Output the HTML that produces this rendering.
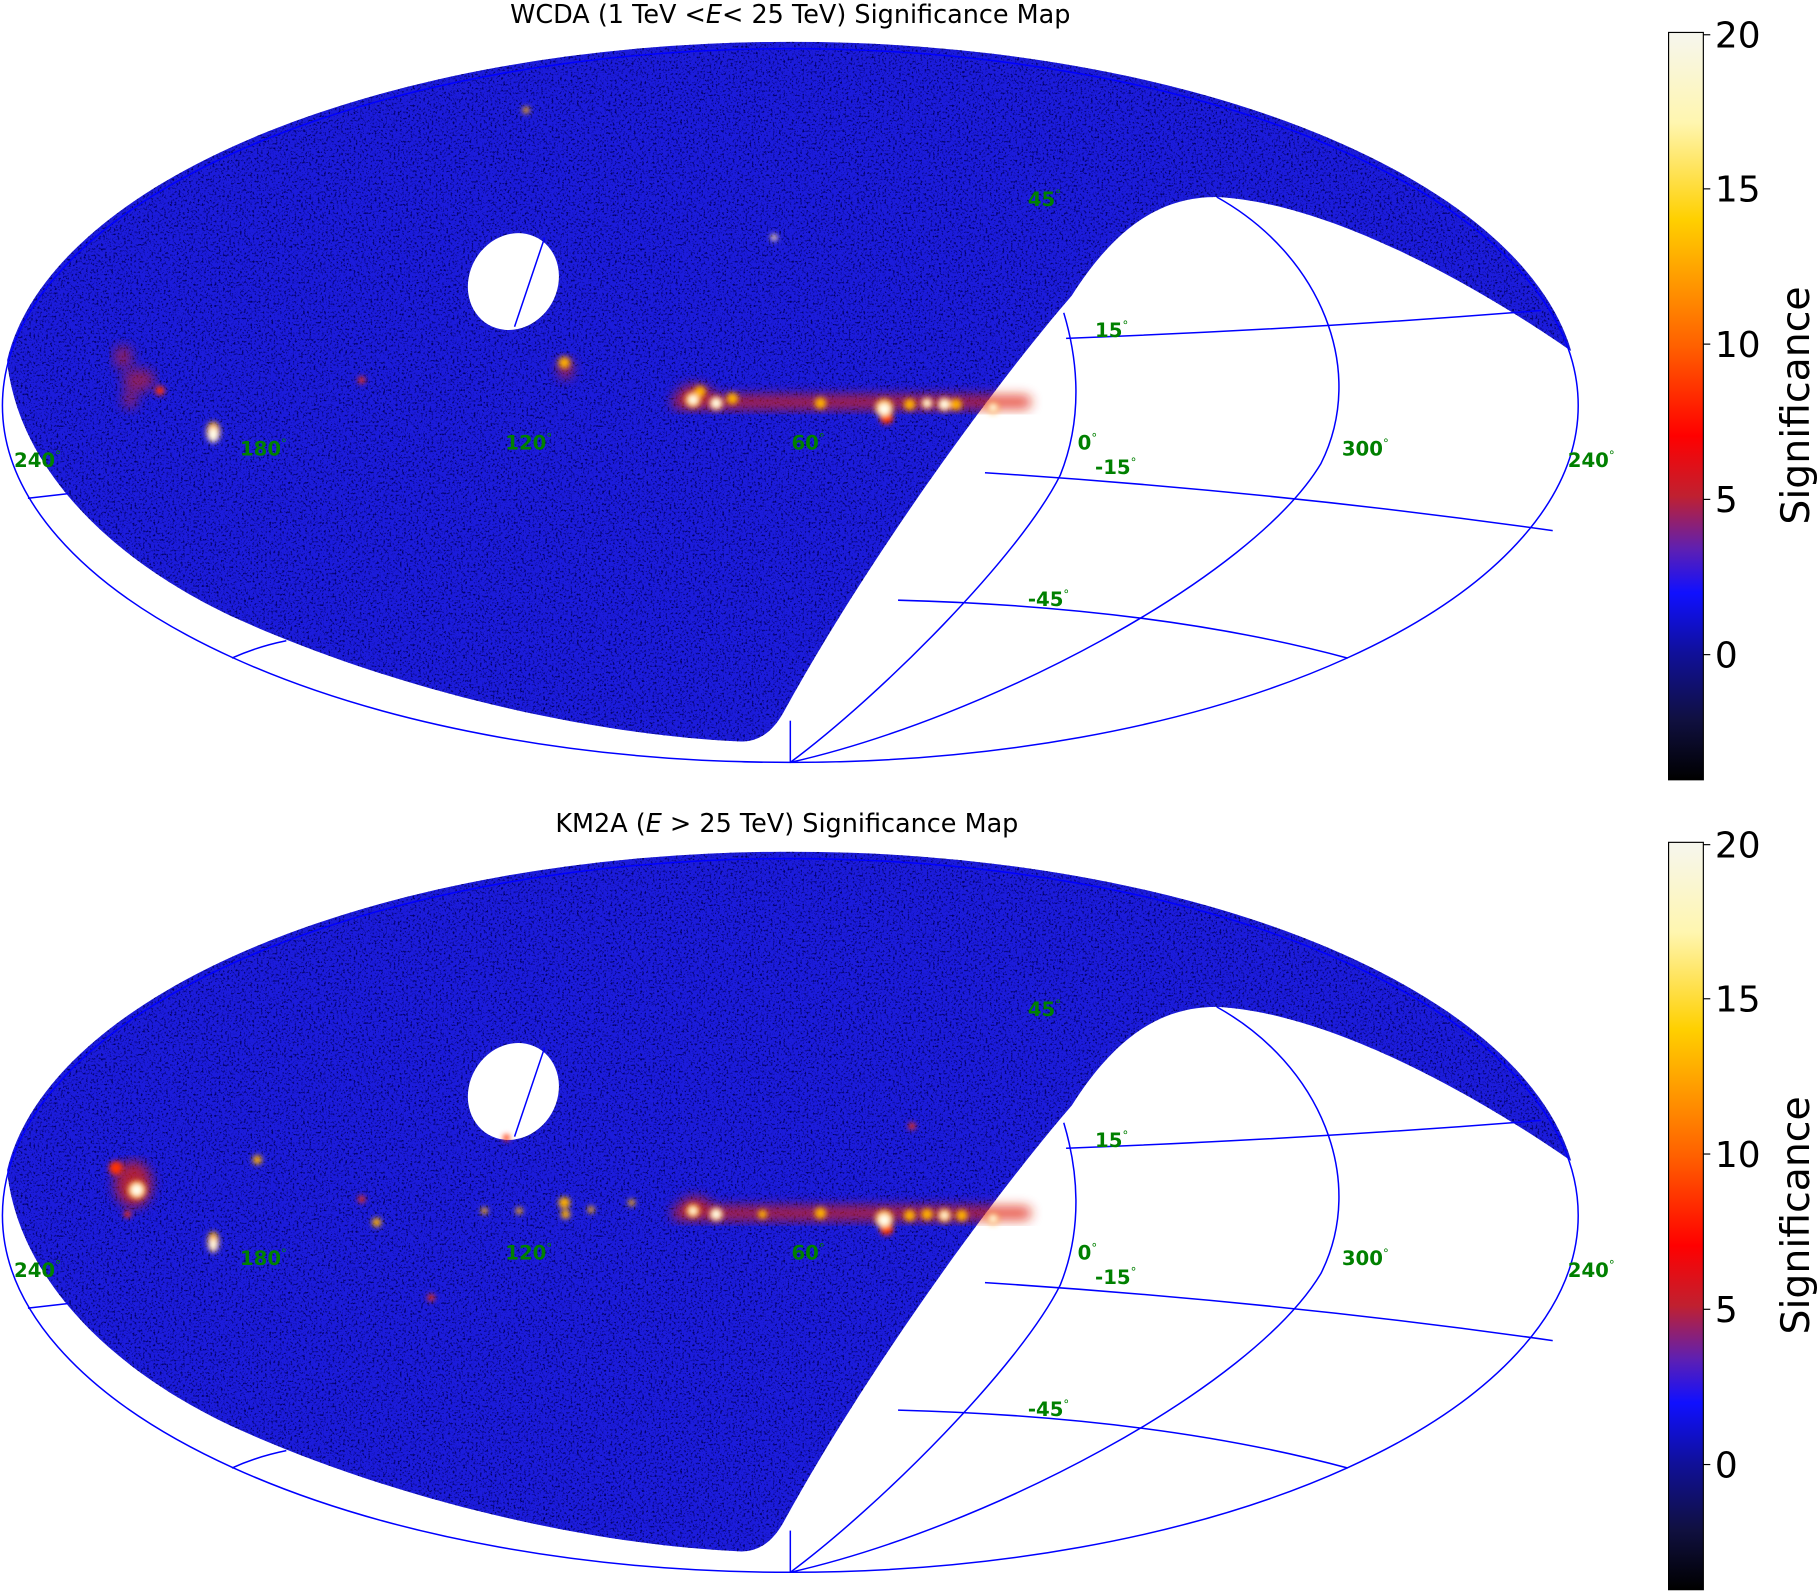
<!DOCTYPE html>
<html><head><meta charset="utf-8"><style>html,body{margin:0;padding:0;background:#fff}svg{display:block}</style></head>
<body>
<svg width="1817" height="1592" viewBox="0 0 1568 1374" xmlns="http://www.w3.org/2000/svg">
<defs>
<filter id="nz" x="0" y="0" width="100%" height="100%">
<feTurbulence type="fractalNoise" baseFrequency="0.55" numOctaves="2" seed="4"/>
<feColorMatrix type="matrix" values="0 0 0 0 0  0 0 0 0 0  0 0 0 0 0.12  4.2 0 0 0 -2.2"/>
</filter>
<filter id="bl"><feGaussianBlur stdDeviation="2.2"/></filter>
<filter id="bl2"><feGaussianBlur stdDeviation="5"/></filter>
<clipPath id="mc"><path id="mp" d="M6,311 C15,400 90,480 200,532 C350,600 520,635 640,640 Q662,640 676,615 C750,480 860,330 925,255 C965,192 1005,170 1050,170 C1150,175 1280,250 1356,303 A680 308 0 0 0 6,311 Z"/></clipPath>
<linearGradient id="cb" x1="0" y1="0" x2="0" y2="1">
<stop offset="0" stop-color="#f6f6ee"/><stop offset="0.12" stop-color="#fff6b0"/><stop offset="0.25" stop-color="#ffd000"/><stop offset="0.42" stop-color="#ff6000"/><stop offset="0.54" stop-color="#ff0000"/><stop offset="0.62" stop-color="#c02030"/><stop offset="0.69" stop-color="#6020b0"/><stop offset="0.75" stop-color="#1010ff"/><stop offset="0.83" stop-color="#10109a"/><stop offset="0.92" stop-color="#101040"/><stop offset="1" stop-color="#000"/>
</linearGradient>
<g id="base">
<g clip-path="url(#mc)">
<rect x="0" y="30" width="1370" height="640" fill="#1c1cdc"/>
<rect x="0" y="30" width="1370" height="640" filter="url(#nz)"/>
</g>
<ellipse cx="443" cy="243" rx="43" ry="38" transform="rotate(-60 443 243)" fill="#fff"/>
<g fill="none" stroke="#0000ff" stroke-width="1.3">
<ellipse cx="682" cy="350" rx="680" ry="308"/>
<path d="M920,292 Q1130,284 1330,268"/>
<path d="M850,408 Q1100,424 1340,458"/>
<path d="M24,430 L59,426"/>
<path d="M775,518 Q1000,524 1163,568"/>
<path d="M200,568 Q222,558 247,553"/>
<path d="M682,658 C760,600 880,480 915,410 C935,360 930,310 918,270"/>
<path d="M682,658 C850,620 1080,500 1140,400 C1180,320 1140,220 1050,170"/>
<path d="M682,658 L682,622"/>
<path d="M444,282 L470,205"/>
</g>
</g>
</defs>

<!-- top panel -->
<use href="#base"/>
<g>
<g filter="url(#bl2)" fill="#e02010" opacity="0.55">
<ellipse cx="106" cy="308" rx="8" ry="10"/>
<ellipse cx="120" cy="328" rx="14" ry="10"/>
<ellipse cx="112" cy="345" rx="6" ry="8"/>
</g>
<g filter="url(#bl2)" fill="#e02010" opacity="0.75">
<rect x="580" y="341" width="310" height="12" rx="6"/>
<ellipse cx="488" cy="318" rx="6" ry="9"/>
<ellipse cx="600" cy="342" rx="16" ry="10"/>
</g>
<g filter="url(#bl)">
<g fill="#ff3000">
<circle cx="138" cy="337" r="4"/><circle cx="312" cy="328" r="3"/><circle cx="765" cy="360" r="6"/>
</g>
<g fill="#ffb000">
<ellipse cx="184" cy="373" rx="6" ry="9"/><circle cx="487" cy="313" r="5"/><circle cx="598" cy="345" r="7"/><circle cx="604" cy="338" r="5"/><circle cx="618" cy="348" r="6"/><circle cx="632" cy="344" r="5"/><circle cx="708" cy="348" r="5"/><circle cx="763" cy="352" r="8"/><circle cx="785" cy="349" r="5"/><circle cx="800" cy="348" r="5"/><circle cx="815" cy="349" r="6"/><circle cx="825" cy="349" r="5"/><circle cx="857" cy="352" r="5"/><circle cx="668" cy="205" r="3"/><circle cx="454" cy="95" r="3"/>
</g>
<g fill="#fffff0">
<ellipse cx="184" cy="375" rx="4" ry="6"/><circle cx="598" cy="345" r="4"/><circle cx="618" cy="348" r="4"/><circle cx="763" cy="353" r="5"/><circle cx="800" cy="348" r="3"/><circle cx="815" cy="349" r="4"/><circle cx="857" cy="352" r="3"/><circle cx="668" cy="205" r="2"/>
</g>
</g>
</g>

<!-- bottom panel -->
<use href="#base" y="699"/>
<g>
<g filter="url(#bl2)" fill="#e02010" opacity="0.75">
<ellipse cx="115" cy="1022" rx="16" ry="20"/>
<rect x="580" y="1041" width="310" height="12" rx="6"/>
<ellipse cx="600" cy="1042" rx="14" ry="9"/>
</g>
<g filter="url(#bl)">
<g fill="#ff3000">
<circle cx="100" cy="1008" r="6"/><circle cx="110" cy="1048" r="3"/><circle cx="787" cy="972" r="3"/><circle cx="372" cy="1120" r="3"/><circle cx="765" cy="1060" r="6"/><circle cx="312" cy="1035" r="3"/><circle cx="437" cy="982" r="3"/>
</g>
<g fill="#ffb000">
<circle cx="118" cy="1027" r="8"/><ellipse cx="184" cy="1072" rx="5" ry="9"/><circle cx="222" cy="1001" r="4"/><circle cx="325" cy="1055" r="4"/><circle cx="418" cy="1045" r="3"/><circle cx="448" cy="1045" r="3"/><circle cx="487" cy="1038" r="5"/><circle cx="488" cy="1048" r="4"/><circle cx="510" cy="1044" r="3"/><circle cx="545" cy="1038" r="3"/><circle cx="598" cy="1045" r="6"/><circle cx="618" cy="1048" r="6"/><circle cx="658" cy="1048" r="4"/><circle cx="708" cy="1047" r="5"/><circle cx="763" cy="1052" r="8"/><circle cx="785" cy="1049" r="5"/><circle cx="800" cy="1048" r="5"/><circle cx="815" cy="1049" r="6"/><circle cx="830" cy="1049" r="5"/><circle cx="857" cy="1052" r="5"/>
</g>
<g fill="#fffff0">
<circle cx="118" cy="1027" r="5"/><ellipse cx="184" cy="1074" rx="3" ry="5"/><circle cx="598" cy="1045" r="3"/><circle cx="618" cy="1048" r="4"/><circle cx="763" cy="1053" r="5"/><circle cx="815" cy="1049" r="3"/><circle cx="857" cy="1052" r="3"/>
</g>
</g>
</g>

<!-- titles -->
<g font-family="DejaVu Sans, Liberation Sans, sans-serif" font-size="22" fill="#000" text-anchor="middle">
<text x="682" y="20">WCDA (1 TeV  &lt;<tspan font-style="italic">E</tspan>&lt;  25 TeV) Significance Map</text>
<text x="679" y="718">KM2A (<tspan font-style="italic">E</tspan> &gt; 25 TeV) Significance Map</text>
</g>

<!-- green labels -->
<g font-family="DejaVu Sans, Liberation Sans, sans-serif" font-size="17" font-weight="bold" fill="#008000">
<g>
<text x="887" y="178">45<tspan font-size="10" font-weight="normal" dy="-7">°</tspan></text>
<text x="945" y="291">15<tspan font-size="10" font-weight="normal" dy="-7">°</tspan></text>
<text x="12" y="403">240<tspan font-size="10" font-weight="normal" dy="-7">°</tspan></text>
<text x="207" y="393">180<tspan font-size="10" font-weight="normal" dy="-7">°</tspan></text>
<text x="436" y="388">120<tspan font-size="10" font-weight="normal" dy="-7">°</tspan></text>
<text x="683" y="388">60<tspan font-size="10" font-weight="normal" dy="-7">°</tspan></text>
<text x="930" y="388">0<tspan font-size="10" font-weight="normal" dy="-7">°</tspan></text>
<text x="945" y="409">-15<tspan font-size="10" font-weight="normal" dy="-7">°</tspan></text>
<text x="1158" y="393">300<tspan font-size="10" font-weight="normal" dy="-7">°</tspan></text>
<text x="1353" y="403">240<tspan font-size="10" font-weight="normal" dy="-7">°</tspan></text>
<text x="887" y="523">-45<tspan font-size="10" font-weight="normal" dy="-7">°</tspan></text>
</g>
<g transform="translate(0,699)">
<text x="887" y="178">45<tspan font-size="10" font-weight="normal" dy="-7">°</tspan></text>
<text x="945" y="291">15<tspan font-size="10" font-weight="normal" dy="-7">°</tspan></text>
<text x="12" y="403">240<tspan font-size="10" font-weight="normal" dy="-7">°</tspan></text>
<text x="207" y="393">180<tspan font-size="10" font-weight="normal" dy="-7">°</tspan></text>
<text x="436" y="388">120<tspan font-size="10" font-weight="normal" dy="-7">°</tspan></text>
<text x="683" y="388">60<tspan font-size="10" font-weight="normal" dy="-7">°</tspan></text>
<text x="930" y="388">0<tspan font-size="10" font-weight="normal" dy="-7">°</tspan></text>
<text x="945" y="409">-15<tspan font-size="10" font-weight="normal" dy="-7">°</tspan></text>
<text x="1158" y="393">300<tspan font-size="10" font-weight="normal" dy="-7">°</tspan></text>
<text x="1353" y="403">240<tspan font-size="10" font-weight="normal" dy="-7">°</tspan></text>
<text x="887" y="523">-45<tspan font-size="10" font-weight="normal" dy="-7">°</tspan></text>
</g>
</g>

<!-- colorbars -->
<g font-family="DejaVu Sans, Liberation Sans, sans-serif" font-size="31" fill="#000">
<g>
<rect x="1440" y="28" width="30" height="645" fill="url(#cb)" stroke="#000" stroke-width="1"/>
<g stroke="#000" stroke-width="1"><line x1="1470" y1="30" x2="1476" y2="30"/><line x1="1470" y1="163" x2="1476" y2="163"/><line x1="1470" y1="297" x2="1476" y2="297"/><line x1="1470" y1="431" x2="1476" y2="431"/><line x1="1470" y1="565" x2="1476" y2="565"/></g>
<text x="1480" y="41">20</text><text x="1480" y="174">15</text><text x="1480" y="308">10</text><text x="1480" y="442">5</text><text x="1480" y="576">0</text>
<text transform="translate(1561,350) rotate(-90)" text-anchor="middle" font-size="34">Significance</text>
</g>
<g transform="translate(0,699)">
<rect x="1440" y="28" width="30" height="645" fill="url(#cb)" stroke="#000" stroke-width="1"/>
<g stroke="#000" stroke-width="1"><line x1="1470" y1="30" x2="1476" y2="30"/><line x1="1470" y1="163" x2="1476" y2="163"/><line x1="1470" y1="297" x2="1476" y2="297"/><line x1="1470" y1="431" x2="1476" y2="431"/><line x1="1470" y1="565" x2="1476" y2="565"/></g>
<text x="1480" y="41">20</text><text x="1480" y="174">15</text><text x="1480" y="308">10</text><text x="1480" y="442">5</text><text x="1480" y="576">0</text>
<text transform="translate(1561,350) rotate(-90)" text-anchor="middle" font-size="34">Significance</text>
</g>
</g>
</svg>
</body></html>
